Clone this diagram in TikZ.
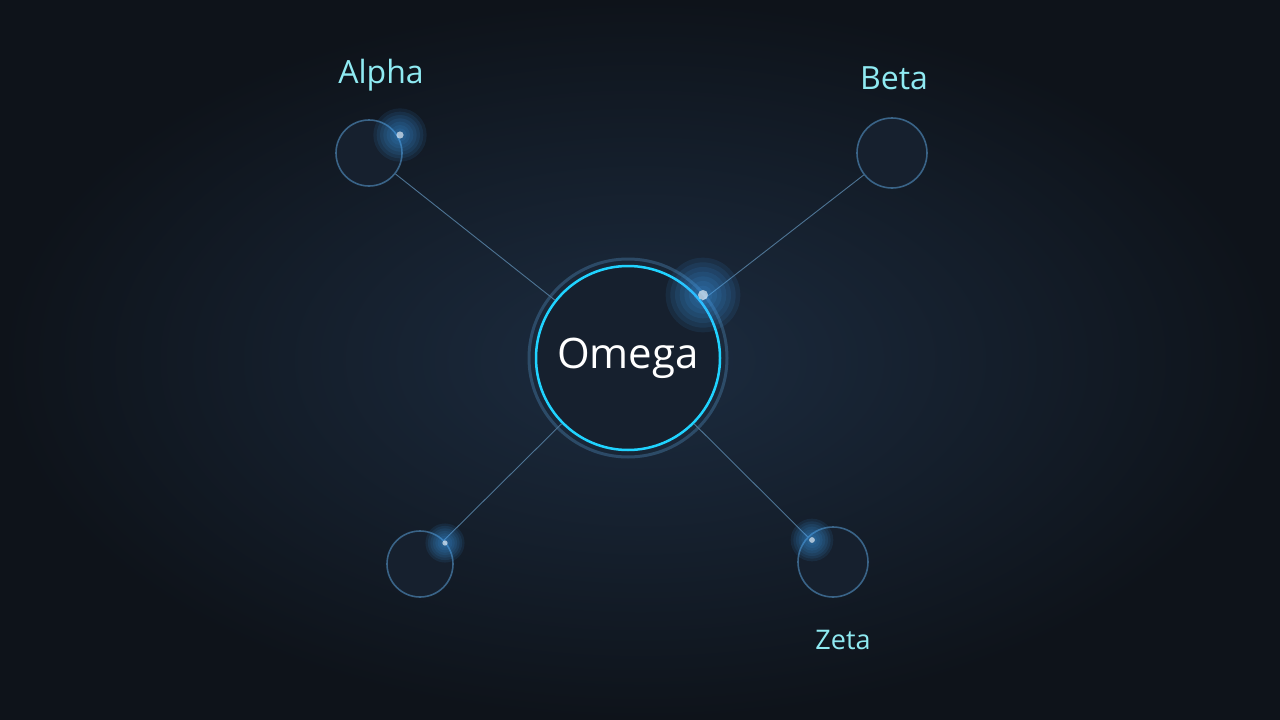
\documentclass[tikz,border=0pt]{standalone}
\usepackage{fontspec}
\setmainfont{Open Sans}
\definecolor{bg}{HTML}{16202E}
\definecolor{bgc}{HTML}{1C2C40}
\definecolor{bge}{HTML}{0E131A}
\definecolor{ring}{HTML}{3A6488}
\definecolor{cyanl}{HTML}{8FEAF2}
\definecolor{glowc}{HTML}{3FA7FF}
\tikzset{
 small/.style={circle,draw=ring,line width=1.6pt,fill=bg,minimum size=#1},
 lbl/.style={text=cyanl,font=\fontsize{32}{36}\selectfont},
 conn/.style={draw=ring!90!white,line width=0.9pt}
}
\newcommand{\glowat}[2]{%
 \foreach \k in {1,...,8}{\fill[glowc,opacity=0.09] #1 circle ({#2*(1-\k/9)});}
 \fill[white,opacity=0.6] #1 circle ({#2*0.12});}
\begin{document}
\begin{tikzpicture}[x=1pt,y=-1pt]
\useasboundingbox (0,0) rectangle (1280,720);
\fill[inner color=bgc,outer color=bge] (0,0) rectangle (1280,720);
\node[small=66pt] (a) at (369,153) {};
\node[small=70pt] (b) at (892,153) {};
\node[small=66pt] (c) at (420,564) {};
\node[small=70pt] (d) at (833,562) {};
\draw[ring,line width=3pt,opacity=0.6] (628,358) circle (99);
\node[circle,draw=glowc!50!cyan,line width=2.5pt,fill=bg,minimum size=184pt,
 font=\fontsize{42}{46}\selectfont,text=white] (o) at (628,358) {Omega};
\path[conn] (a) -- (o);
\path[conn] (b) -- (o);
\path[conn] (c) -- (o);
\path[conn] (d) -- (o);
\glowat{(400,135)}{30}
\glowat{(703,295)}{42}
\glowat{(445,543)}{22}
\glowat{(812,540)}{24}
\node[lbl] (la) at (381,75) {Alpha};
\node[lbl] (lb) at (894,78) {Beta};
\node[lbl,font=\fontsize{27}{30}\selectfont] (ld) at (843,640) {Zeta};
\end{tikzpicture}
\end{document}
